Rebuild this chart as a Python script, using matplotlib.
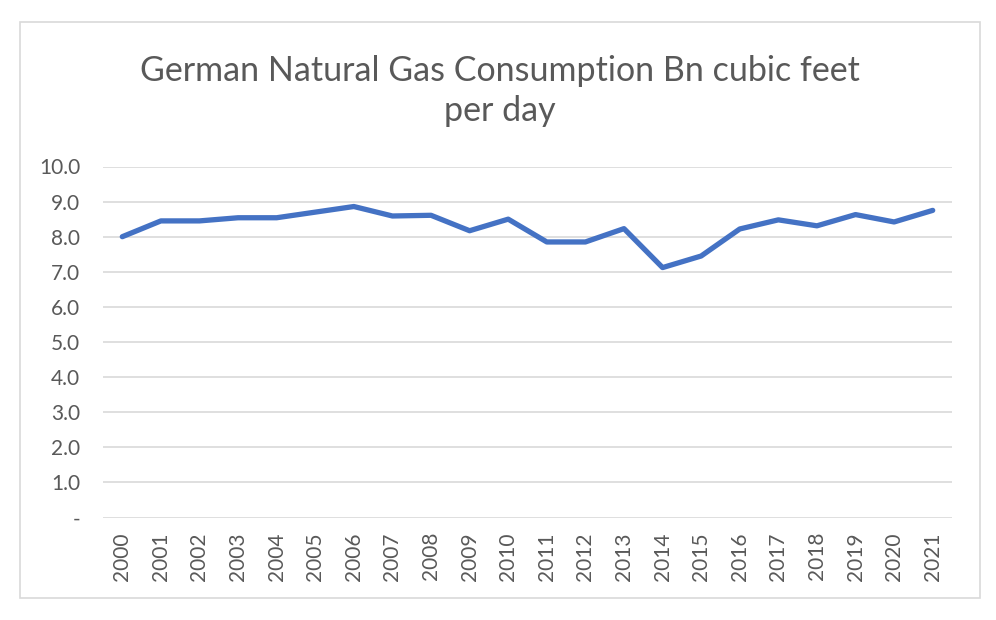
import matplotlib
matplotlib.use("Agg")
import matplotlib.pyplot as plt
from matplotlib.patches import Rectangle
from matplotlib.ticker import FuncFormatter

years = [str(y) for y in range(2000, 2022)]
consumption = [8.0, 8.45, 8.45, 8.54, 8.54, 8.7, 8.86, 8.59, 8.61, 8.17, 8.5,
               7.85, 7.85, 8.23, 7.12, 7.45, 8.22, 8.48, 8.31, 8.63, 8.42, 8.75]
title = "German Natural Gas Consumption Bn cubic feet\nper day"

plt.rcParams['font.family'] = ['Lato', 'DejaVu Sans']
fig = plt.figure(figsize=(9.96, 6.2), dpi=100)
fig.patch.set_facecolor('white')
fig.patches.append(Rectangle((20/996, 1-598/620), 960/996, 576/620, transform=fig.transFigure,
                             fill=False, edgecolor='#d9d9d9', linewidth=1.2))

ax = fig.add_axes([103/996, 1-517.5/620, 849/996, 351/620])
x = list(range(len(years)))
ax.plot(x, consumption, color='#4472c4', linewidth=3.8, solid_joinstyle='round', solid_capstyle='round')
ax.set_xlim(-0.5, len(years)-0.5)
ax.set_ylim(0, 10)
ax.set_yticks([i for i in range(0, 11)])
ax.yaxis.set_major_formatter(FuncFormatter(lambda v, p: '-' if v == 0 else f"{v:.1f}"))
ax.set_xticks(x)
ax.set_xticklabels(years, rotation=90)
ax.grid(axis='y', color='#d9d9d9', linewidth=1.2)
ax.set_axisbelow(True)
for s in ax.spines.values():
    s.set_visible(False)
ax.tick_params(axis='both', length=0, labelsize=15, colors='#595959')
ax.tick_params(axis='y', pad=16.5)
ax.tick_params(axis='x', pad=10.5)
fig.text(500/996, 1-91/620, title, ha='center', va='center', fontsize=24.5,
         color='#595959', linespacing=1.32)
fig.savefig("out.png", dpi=100, facecolor='white')
